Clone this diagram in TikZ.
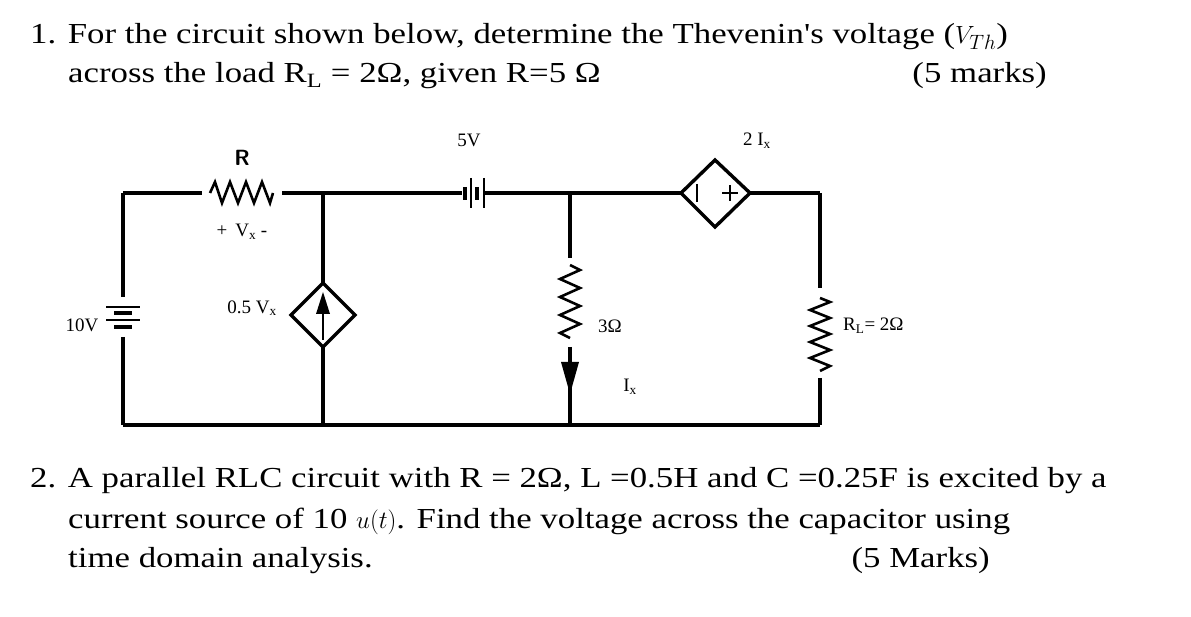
\documentclass[tikz,border=0pt]{standalone}
\usepackage{fontspec}
\setmainfont{Liberation Serif}
\newfontfamily\wide[FakeStretch=1.2]{Liberation Serif}
\usepackage{amsmath}
\begin{document}
\begin{tikzpicture}[x=1pt,y=-1pt,
  wire/.style={line width=3.6pt},
  thinp/.style={line width=1.3pt},
  lbl/.style={font=\fontsize{19}{19}\selectfont, inner sep=0pt},
  big/.style={font=\wide\fontsize{29}{30}\selectfont, inner sep=0pt, anchor=west},
  dia/.style={line width=3.4pt, fill=white}]
\useasboundingbox (0,0) rectangle (1191,617);
% texts
\node[big] (t1) at (30,37) {1. For the circuit shown below, determine the Thevenin's voltage ($V_{Th}$)};
\node[big] (t2) at (68,76) {across the load R\textsubscript{L} = 2Ω, given R=5 Ω};
\node[big,anchor=east] (t3) at (1047,76) {(5 marks)};
\node[big] (q1) at (30,481) {2. A parallel RLC circuit with R = 2Ω, L =0.5H and C =0.25F is excited by a};
\node[big] (q2) at (68,521) {current source of 10 $u(t)$. Find the voltage across the capacitor using};
\node[big] (q3) at (68,561) {time domain analysis.};
\node[big,anchor=east] (q4) at (990,561) {(5 Marks)};
% coordinates
\coordinate (TL) at (123,193); \coordinate (BL) at (123,425);
\coordinate (N1) at (323,193); \coordinate (B1) at (323,425);
\coordinate (N2) at (570,193); \coordinate (B2) at (570,425);
\coordinate (TR) at (820,193); \coordinate (BR) at (820,425);
% left battery
\draw[wire] (TL) -- (123,297);
\draw[wire] (123,337) -- (BL);
\draw[thinp] (106,307) -- (140,307);
\draw[line width=3.6pt] (114,313) -- (132,313);
\draw[thinp] (106,320) -- (140,320);
\draw[line width=3.6pt] (114,327) -- (132,327);
\node[lbl] (v10) at (82,325) {10V};
% R resistor
\draw[wire] (TL) -- (202,193);
\draw[line width=2.6pt] (210,193) -- (215,182) -- (222,203) -- (230,182) -- (238,203) -- (246,182) -- (254,203) -- (262,182) -- (270,203) -- (273,193);
\draw[wire] (282,193) -- (N1);
\node[font=\sffamily\bfseries\fontsize{22}{22}\selectfont] (Rl) at (242,158) {R};
\node[lbl] (vx) at (242,232) {+ \,V\textsubscript{x} -};
% dependent current source
\draw[wire] (N1) -- (323,285);
\draw[wire] (323,345) -- (B1);
\draw[dia] (323,283) -- (355,315) -- (323,347) -- (291,315) -- cycle;
\draw[line width=2.6pt] (323,340) -- (323,310);
\fill (323,292) -- (316,314) -- (330,314) -- cycle;
\node[lbl] (c05) at (252,308) {0.5 V\textsubscript{x}};
% 5V battery
\draw[wire] (N1) -- (462,193);
\draw[line width=3.6pt] (465,187) -- (465,200);
\draw[thinp] (471,178) -- (471,208);
\draw[line width=3.6pt] (477,187) -- (477,200);
\draw[thinp] (484,178) -- (484,208);
\draw[wire] (484,193) -- (N2);
\node[lbl] (v5) at (469,140) {5V};
% 3 ohm
\draw[wire] (N2) -- (570,258);
\draw[line width=2.6pt] (570,265) -- (580,270) -- (560,279) -- (580,288) -- (560,297) -- (580,306) -- (560,315) -- (580,324) -- (560,333) -- (570,338);
\draw[wire] (570,347) -- (B2);
\fill (561,362) -- (579,362) -- (570,394) -- cycle;
\node[lbl] (r3) at (610,326) {3Ω};
\node[lbl] (ix) at (630,387) {I\textsubscript{x}};
% dependent voltage source
\draw[wire] (N2) -- (682,193);
\draw[wire] (750,193) -- (TR);
\draw[dia] (715,160) -- (750,193) -- (715,227) -- (681,193) -- cycle;
\draw[line width=2.6pt] (697,184) -- (697,202);
\draw[line width=2.6pt] (722,193) -- (738,193) (730,185) -- (730,201);
\node[lbl] (i2) at (757,141) {2 I\textsubscript{x}};
% RL
\draw[wire] (TR) -- (820,288);
\draw[line width=2.6pt] (820,298) -- (830,302) -- (810,310) -- (830,318) -- (810,326) -- (830,334) -- (810,342) -- (830,350) -- (810,358) -- (830,366) -- (820,371);
\draw[wire] (820,378) -- (BR);
\node[lbl,anchor=west] (rl) at (843,326) {R\textsubscript{L}= 2Ω};
% bottom
\draw[wire] (BL) -- (BR);
\end{tikzpicture}
\end{document}
